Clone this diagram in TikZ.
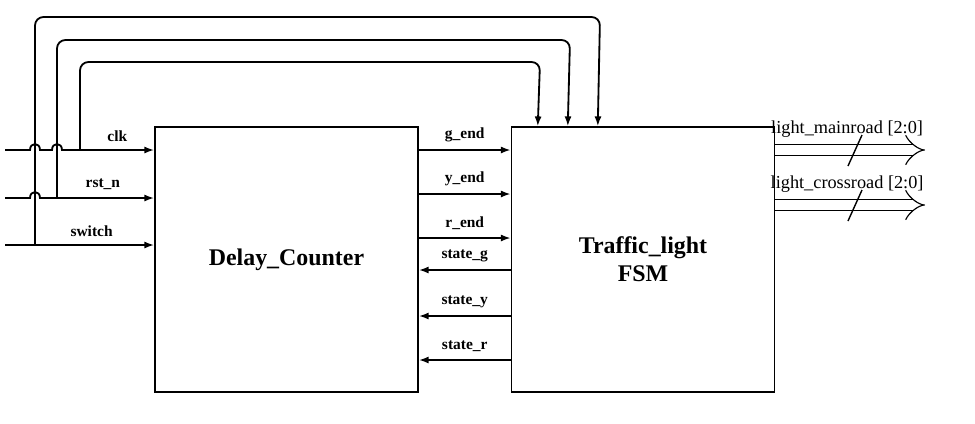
\documentclass[tikz,border=0pt]{standalone}
\usepackage{fontspec}
\setmainfont{Liberation Serif}
\usetikzlibrary{arrows.meta, positioning}

\begin{document}
\begin{tikzpicture}[
                        x=0.025cm, y=-0.025cm,
                        wire/.style={draw, line width=1.3pt, -{Latex[length=7pt,width=5pt]}},
                        bus/.style={draw, line width=1.3pt, rounded corners=6pt, -{Latex[length=7pt,width=5pt]}},
                        block/.style={rectangle, draw, line width=1pt, minimum width=6.575cm, minimum height=6.625cm, align=center, font=\fontsize{17}{20}\selectfont\bfseries},
                        sig/.style={font=\fontsize{11}{13}\selectfont\bfseries, above=2pt},
                        busout/.style={draw, line width=0.8pt, double, double distance=7pt, -{Implies[length=9pt,width=17pt]}},
                        outlab/.style={font=\fontsize{13}{15}\selectfont, above}
                        ]
  \useasboundingbox (0,0) rectangle (975,423);

  \node[block] (dc) at (286.5,259.5) {Delay\_Counter};
  \node[block] (fsm) at (643,259.5) {Traffic\_light\\FSM};

  % inputs
  \coordinate (clkin) at (5,150);
  \coordinate (rstin) at (5,198);
  \coordinate (swin) at (5,245);
  \draw[wire] (clkin) -- (30,150) .. controls (30,142) and (40,142) .. (40,150)
    -- (52,150) .. controls (52,142) and (62,142) .. (62,150) -- (dc.west |- clkin)
    node[sig, pos=0.6] {clk};
  \draw[wire] (rstin) -- (30,198) .. controls (30,190) and (40,190) .. (40,198)
    -- (dc.west |- rstin) node[sig, pos=0.55] {rst\_n};
  \draw[wire] (swin) -- (dc.west |- swin) node[sig, pos=0.58] {switch};

  % feedback to FSM
  \draw[bus] (80,150) -- (80,62) -- (540,62) -- ([xshift=0.675cm]fsm.north west);
  \draw[bus] (57,198) -- (57,40) -- (570,40) -- ([xshift=1.425cm]fsm.north west);
  \draw[bus] (35,245) -- (35,17) -- (600,17) -- ([xshift=2.175cm]fsm.north west);

  % between blocks
  \foreach \y/\name in {150/g\_end, 194/y\_end, 238/r\_end}
    \draw[wire] (dc.east |- 0,\y) -- (fsm.west |- 0,\y) node[sig, midway] {\name};
  \foreach \y/\name in {270/state\_g, 316/state\_y, 360/state\_r}
    \draw[wire] (fsm.west |- 0,\y) -- (dc.east |- 0,\y) node[sig, midway] {\name};

  % outputs
  \coordinate (mainend) at (925,150);
  \coordinate (crossend) at (925,205);
  \draw[busout] (fsm.east |- mainend) -- (mainend) node[outlab, pos=0.48, yshift=5pt] {light\_mainroad [2:0]};
  \draw[busout] (fsm.east |- crossend) -- (crossend) node[outlab, pos=0.48, yshift=5pt] {light\_crossroad [2:0]};
  \draw[line width=1pt] (848,166) -- (862,135);
  \draw[line width=1pt] (848,221) -- (862,190);
\end{tikzpicture}
\end{document}
